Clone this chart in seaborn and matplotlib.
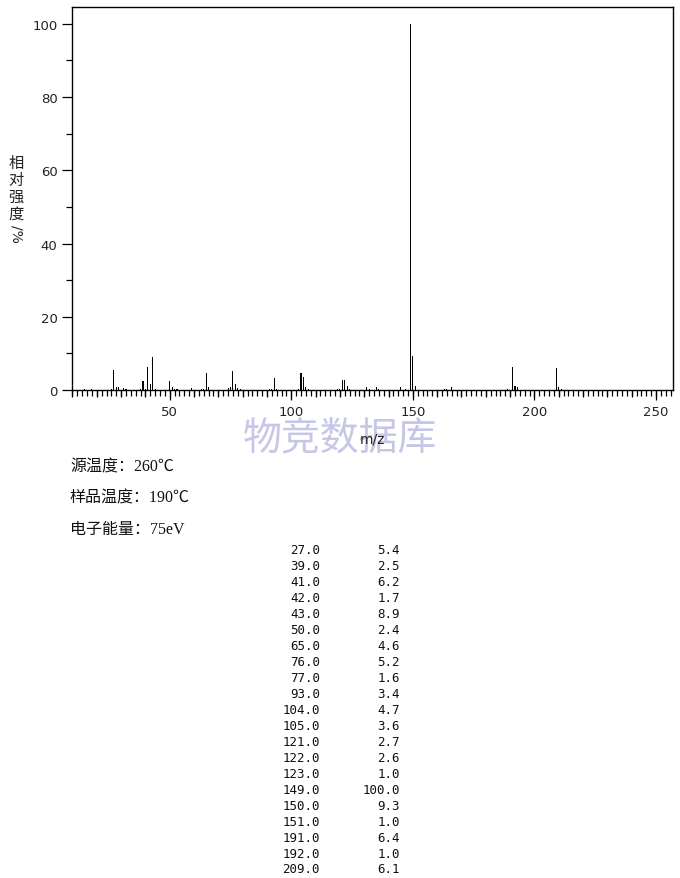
import numpy as np
import pandas as pd
import matplotlib
matplotlib.use("Agg")
import matplotlib.pyplot as plt
import seaborn as sns
from matplotlib.ticker import MultipleLocator, NullFormatter

# peaks listed in the table under the spectrum
mz_table = [27, 39, 41, 42, 43, 50, 65, 76, 77, 93, 104, 105, 121, 122, 123,
            149, 150, 151, 191, 192, 209]
int_table = [5.4, 2.5, 6.2, 1.7, 8.9, 2.4, 4.6, 5.2, 1.6, 3.4, 4.7, 3.6, 2.7, 2.6, 1.0,
             100.0, 9.3, 1.0, 6.4, 1.0, 6.1]

# small peaks (<1 %)
mz_small = [15, 18, 26, 28, 29, 31, 32, 38, 40, 44, 51, 52, 53, 59, 63, 64, 66, 74, 75,
            78, 79, 91, 92, 94, 103, 106, 107, 119, 120, 124, 131, 132, 135, 136, 145,
            147, 163, 164, 166, 189, 193, 210, 211]
int_small = [0.3, 0.2, 0.3, 0.9, 0.9, 0.6, 0.3, 0.4, 0.4, 0.3, 0.9, 0.4, 0.3, 0.5, 0.3,
             0.3, 0.8, 0.6, 0.9, 0.5, 0.3, 0.3, 0.3, 0.3, 0.3, 0.7, 0.3, 0.3, 0.3, 0.3,
             0.9, 0.3, 0.8, 0.4, 0.9, 0.3, 0.3, 0.3, 0.8, 0.3, 0.7, 0.7, 0.3]

info_lines = ["源温度：260℃", "样品温度：190℃", "电子能量：75eV"]

df = pd.DataFrame({"mz": mz_table + mz_small, "intensity": int_table + int_small})
df = df.sort_values("mz")

sns.set_style("ticks")
plt.rcParams["font.family"] = ["DejaVu Sans", "Noto Sans CJK SC"]

W, H = 680, 879
fig = plt.figure(figsize=(W / 100, H / 100), dpi=100)
ax = fig.add_axes([72 / W, 1 - 391 / H, (673 - 72) / W, (391 - 8) / H])

sns.barplot(data=df, x="mz", y="intensity", native_scale=True, width=0.45,
            color="black", saturation=1, linewidth=0, errorbar=None, ax=ax)

ax.set_xlim(9.8, 257)
ax.set_ylim(0, 104.6)
ax.set_xlabel("")
ax.set_ylabel("")

for s in ax.spines.values():
    s.set_color("black")
    s.set_linewidth(1)

ax.xaxis.set_major_locator(MultipleLocator(50))
ax.xaxis.set_minor_locator(MultipleLocator(2))
ax.yaxis.set_major_locator(MultipleLocator(20))
ax.yaxis.set_minor_locator(MultipleLocator(10))
ax.tick_params(which="major", length=7.5, width=0.9, color="black",
               labelsize=9.5, labelcolor="#222222", pad=3)
ax.tick_params(which="minor", length=4, width=0.9, color="black")

# medium ticks every 10 on the m/z axis
sec = ax.secondary_xaxis("bottom")
sec.xaxis.set_major_locator(MultipleLocator(10))
sec.xaxis.set_major_formatter(NullFormatter())
sec.tick_params(length=5.3, width=0.9, color="black")
sec.spines["bottom"].set_visible(False)

# watermark and axis labels
fig.text(340 / W, 1 - 440 / H, "物竞数据库", fontsize=28, color="#c6c6e8",
         ha="center", va="center", family=["Noto Sans CJK SC"])
fig.text(372 / W, 1 - 440 / H, "m/z", fontsize=10, ha="center", va="center")
fig.text(16 / W, 1 - 155 / H, "相\n对\n强\n度", fontsize=11, ha="center", va="top",
         linespacing=1.0, family=["Noto Sans CJK SC"], color="#222222")
fig.text(16 / W, 1 - 234 / H, "/%", fontsize=10, ha="center", va="center",
         rotation=270, color="#222222")

for i, line in enumerate(info_lines):
    fig.text(70 / W, 1 - (467 + 31.5 * i) / H, line, fontsize=11.5, ha="left", va="center",
             family=["Liberation Serif", "Noto Sans CJK SC"], color="#111111")

for i, (m, v) in enumerate(zip(mz_table, int_table)):
    y = 1 - (551 + 15.95 * i) / H
    fig.text(320 / W, y, f"{m:.1f}", fontsize=9, ha="right", va="center",
             family=["DejaVu Sans Mono"], color="#111111")
    fig.text(400 / W, y, f"{v:.1f}", fontsize=9, ha="right", va="center",
             family=["DejaVu Sans Mono"], color="#111111")

fig.savefig("out.png", dpi=100)
